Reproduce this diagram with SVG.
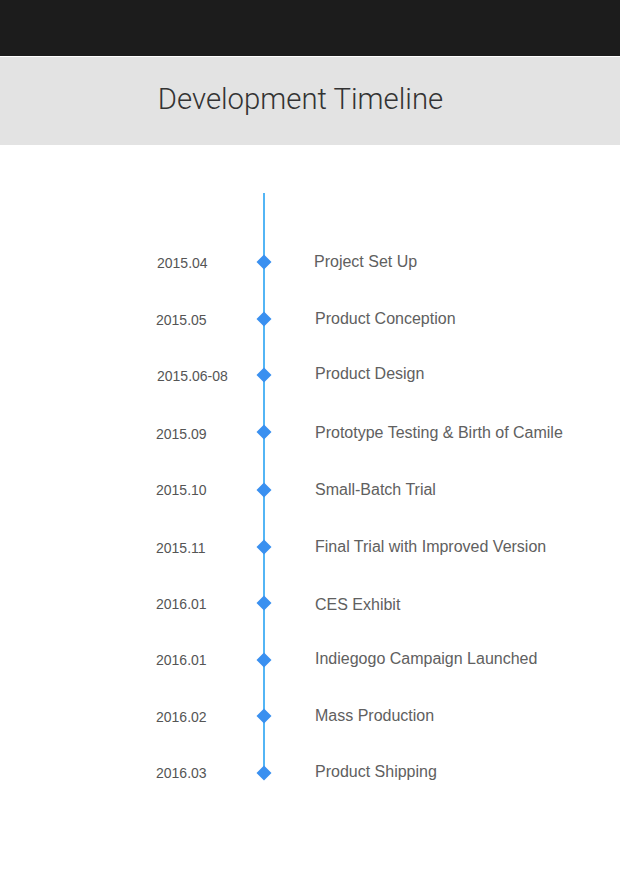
<svg xmlns="http://www.w3.org/2000/svg" width="620" height="875" viewBox="0 0 620 875">
<style>
.date{font-family:"Liberation Sans",Arial,sans-serif;font-size:14px;fill:#555}
.lbl{font-family:"Liberation Sans",Arial,sans-serif;font-size:16px;fill:#606060}
.dia{fill:#3a90f0}
</style>
<defs><path id="d" d="M0,-7.5 L7.5,0 L0,7.5 L-7.5,0 Z"/></defs>
<rect x="0" y="0" width="620" height="875" fill="#ffffff"/>
<rect x="0" y="0" width="620" height="56" fill="#1c1c1c"/>
<rect x="0" y="57" width="620" height="88" fill="#e3e3e3"/>
<text x="300.5" y="109" text-anchor="middle" font-family="Roboto,'Liberation Sans',sans-serif" font-weight="300" font-size="29.3" fill="#333">Development Timeline</text>
<g id="connectors"><line x1="264" y1="193" x2="264" y2="773" stroke="#1a9cf2" stroke-width="1.5"/></g>
<g id="n1"><use href="#d" x="264" y="262" class="dia"/><text class="date" x="157" y="268">2015.04</text><text class="lbl" x="314" y="267">Project Set Up</text></g>
<g id="n2"><use href="#d" x="264" y="319" class="dia"/><text class="date" x="156" y="325">2015.05</text><text class="lbl" x="315" y="324">Product Conception</text></g>
<g id="n3"><use href="#d" x="264" y="375" class="dia"/><text class="date" x="157" y="381">2015.06-08</text><text class="lbl" x="315" y="379">Product Design</text></g>
<g id="n4"><use href="#d" x="264" y="432" class="dia"/><text class="date" x="156" y="439">2015.09</text><text class="lbl" x="315" y="438">Prototype Testing &amp; Birth of Camile</text></g>
<g id="n5"><use href="#d" x="264" y="490" class="dia"/><text class="date" x="156" y="495">2015.10</text><text class="lbl" x="315" y="495">Small-Batch Trial</text></g>
<g id="n6"><use href="#d" x="264" y="547" class="dia"/><text class="date" x="156" y="553">2015.11</text><text class="lbl" x="315" y="552">Final Trial with Improved Version</text></g>
<g id="n7"><use href="#d" x="264" y="603" class="dia"/><text class="date" x="156" y="609">2016.01</text><text class="lbl" x="315" y="610">CES Exhibit</text></g>
<g id="n8"><use href="#d" x="264" y="660" class="dia"/><text class="date" x="156" y="665">2016.01</text><text class="lbl" x="315" y="664">Indiegogo Campaign Launched</text></g>
<g id="n9"><use href="#d" x="264" y="716" class="dia"/><text class="date" x="156" y="722">2016.02</text><text class="lbl" x="315" y="721">Mass Production</text></g>
<g id="n10"><use href="#d" x="264" y="773" class="dia"/><text class="date" x="156" y="778">2016.03</text><text class="lbl" x="315" y="777">Product Shipping</text></g>
</svg>
